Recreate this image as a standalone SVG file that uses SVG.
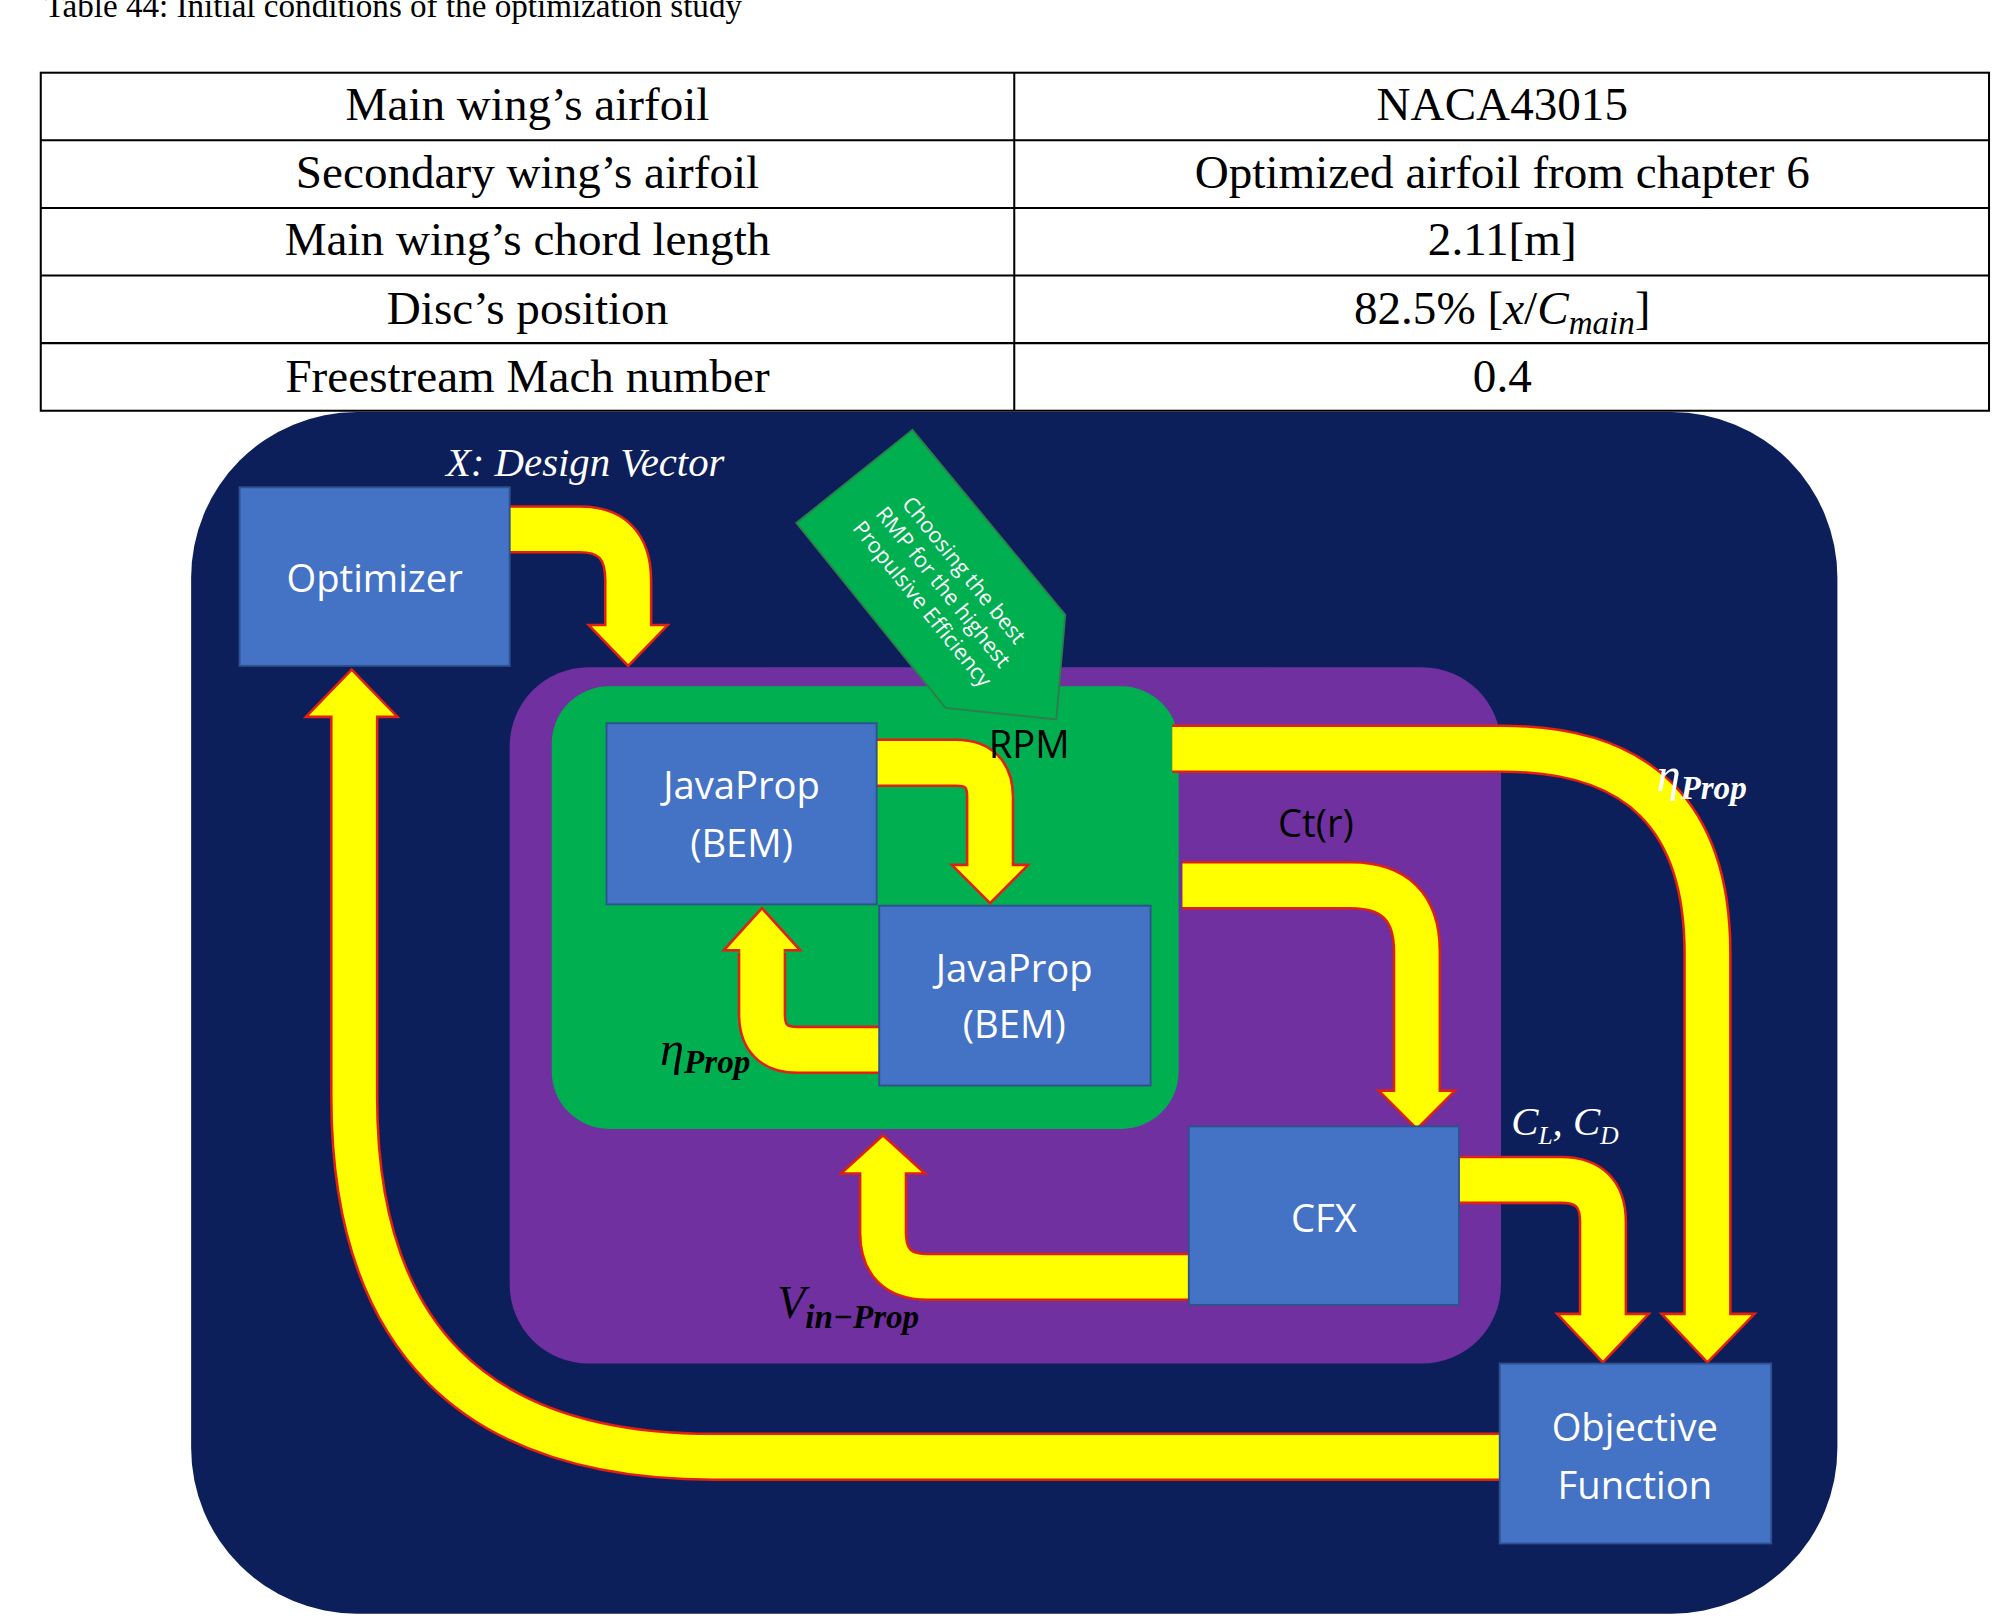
<svg xmlns="http://www.w3.org/2000/svg" width="1998" height="1620" viewBox="0 0 1998 1620">
<style>
.tt{font-family:"Liberation Serif",serif;font-size:37px;fill:#000;text-anchor:middle}
.bx{fill:#4472c4;stroke:#2f528f;stroke-width:1.5}
.bt{font-family:"Open Sans","Noto Sans",sans-serif;font-size:30px;fill:#fff;text-anchor:middle}
.red{fill:none;stroke:#e02010;stroke-width:38}
.yel{fill:none;stroke:#ffff00;stroke-width:34}
.hd{fill:#ffff00;stroke:#e02010;stroke-width:2;stroke-linejoin:miter}
.mi{font-family:"Liberation Serif",serif;font-style:italic;font-size:32px}
.lb{font-family:"Open Sans","Noto Sans",sans-serif;font-size:30px;fill:#000}
</style>
<rect width="1998" height="1620" fill="#fff"/>
<g transform="scale(1.2742 1.2756)">
<text x="35" y="13" font-family="Liberation Serif,serif" font-size="26">Table 44: Initial conditions of the optimization study</text>
<g id="table" stroke="#000" stroke-width="1.6" fill="none">
<rect x="32" y="57" width="1529" height="265"/>
<line x1="32" y1="110" x2="1561" y2="110"/><line x1="32" y1="163" x2="1561" y2="163"/>
<line x1="32" y1="216" x2="1561" y2="216"/><line x1="32" y1="269" x2="1561" y2="269"/>
<line x1="796" y1="57" x2="796" y2="322"/>
</g>
<g id="tabletext">
<text class="tt" x="414" y="94">Main wing’s airfoil</text><text class="tt" x="1179" y="94">NACA43015</text>
<text class="tt" x="414" y="147">Secondary wing’s airfoil</text><text class="tt" x="1179" y="147">Optimized airfoil from chapter 6</text>
<text class="tt" x="414" y="200">Main wing’s chord length</text><text class="tt" x="1179" y="200">2.11[m]</text>
<text class="tt" x="414" y="254">Disc’s position</text><text class="tt" x="1179" y="254">82.5% [<tspan font-style="italic">x</tspan>/<tspan font-style="italic">C<tspan font-size="26" dy="8">main</tspan></tspan><tspan dy="-8">]</tspan></text>
<text class="tt" x="414" y="307">Freestream Mach number</text><text class="tt" x="1179" y="307">0.4</text>
</g>
<g id="background">
<rect x="150" y="323" width="1292" height="942" rx="130" fill="#0d1f5b"/>
<rect x="400" y="523" width="778" height="546" rx="62" fill="#7030a0"/>
<rect x="433" y="538" width="492" height="347" rx="45" fill="#00b050"/>
</g>
<g id="hint">
<polygon points="716,337 625,410 742,555 829,564 836,482" fill="#00b050" stroke="#2f7d4a" stroke-width="1.5"/>
<g transform="translate(738,462) rotate(51)" font-family="Open Sans,Noto Sans,sans-serif" font-size="17" fill="#fff" text-anchor="middle">
<text x="0" y="-18">Choosing the best</text><text x="0" y="3">RMP for the highest</text><text x="0" y="24">Propulsive Efficiency</text>
</g>
</g>
<g id="connectors">
<path class="red" d="M400,415 H455 Q493,415 493,455 V492"/>
<path class="red" d="M1177,1142 H560 Q278,1142 278,860 V560"/>
<path class="red" d="M920,587 H1180 Q1340,587 1340,747 V1032"/>
<path class="red" d="M928,694 H1060 Q1112,694 1112,746 V857"/>
<path class="red" d="M1145,925 H1225 Q1258,925 1258,958 V1032"/>
<path class="red" d="M933,1001 H728 Q693,1001 693,966 V922"/>
<path class="red" d="M688,598 H750 Q777,598 777,625 V680"/>
<path class="red" d="M690,823 H626 Q598,823 598,795 V747"/>
<polygon class="hd" points="462,490 524,490 493,522"/>
<polygon class="hd" points="240,562 312,562 276,525"/>
<polygon class="hd" points="1304,1030 1377,1030 1340,1068"/>
<polygon class="hd" points="1082,855 1142,855 1112,885"/>
<polygon class="hd" points="1222,1030 1294,1030 1258,1068"/>
<polygon class="hd" points="660,920 726,920 693,890"/>
<polygon class="hd" points="747,678 807,678 777,708"/>
<polygon class="hd" points="568,745 628,745 598,712"/>
<path class="yel" d="M400,415 H455 Q493,415 493,455 V494"/>
<path class="yel" d="M1177,1142 H560 Q278,1142 278,860 V558"/>
<path class="yel" d="M920,587 H1180 Q1340,587 1340,747 V1034"/>
<path class="yel" d="M928,694 H1060 Q1112,694 1112,746 V859"/>
<path class="yel" d="M1145,925 H1225 Q1258,925 1258,958 V1034"/>
<path class="yel" d="M933,1001 H728 Q693,1001 693,966 V918"/>
<path class="yel" d="M688,598 H750 Q777,598 777,625 V682"/>
<path class="yel" d="M690,823 H626 Q598,823 598,795 V743"/>
</g>
<g id="optimizer"><rect class="bx" x="188" y="382" width="212" height="140"/><text class="bt" x="294" y="464">Optimizer</text></g>
<g id="javaprop1"><rect class="bx" x="476" y="567" width="212" height="142"/><text class="bt" x="582" y="626">JavaProp</text><text class="bt" x="582" y="672">(BEM)</text></g>
<g id="javaprop2"><rect class="bx" x="690" y="710" width="213" height="141"/><text class="bt" x="796" y="770">JavaProp</text><text class="bt" x="796" y="814">(BEM)</text></g>
<g id="cfx"><rect class="bx" x="933" y="883" width="212" height="140"/><text class="bt" x="1039" y="966">CFX</text></g>
<g id="objective"><rect class="bx" x="1177" y="1069" width="213" height="141"/><text class="bt" x="1283" y="1130">Objective</text><text class="bt" x="1283" y="1175">Function</text></g>
<g id="labels">
<text class="mi" x="350" y="373" fill="#fff">X: Design Vector</text>
<text class="lb" x="776" y="594">RPM</text>
<text class="lb" x="1003" y="656">Ct(r)</text>
<text class="mi" x="1300" y="620" fill="#fff"><tspan font-size="38">η</tspan><tspan font-size="26" font-weight="bold" dy="6">Prop</tspan></text>
<text class="mi" x="518" y="835" fill="#000"><tspan font-size="38">η</tspan><tspan font-size="26" font-weight="bold" dy="6">Prop</tspan></text>
<text class="mi" x="1186" y="890" fill="#fff">C<tspan font-size="20" dy="7">L</tspan><tspan dy="-7">, C</tspan><tspan font-size="20" dy="7">D</tspan></text>
<text class="mi" x="610" y="1033" fill="#000"><tspan font-size="36">V</tspan><tspan font-size="26" font-weight="bold" dy="8">in−Prop</tspan></text>
</g>
</g>
</svg>
